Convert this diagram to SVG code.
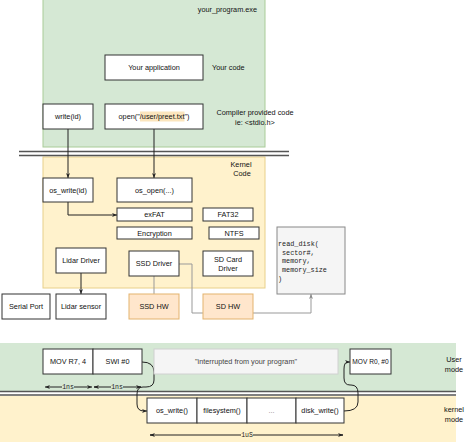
<svg xmlns="http://www.w3.org/2000/svg" width="474" height="442" viewBox="0 0 474 442">
<defs>
<style>
text{font-family:"Liberation Sans",Arial,sans-serif;font-size:7.3px;fill:#111;text-anchor:middle}
.box{fill:#fff;stroke:#333;stroke-width:1}
.hw{fill:#ffe6cc;stroke:#e3b36e;stroke-width:1}
.green{fill:#d5e8d4;stroke:#a9cc98;stroke-width:1}
.yellow{fill:#fff2cc;stroke:#e8d08a;stroke-width:1}
.code{font-family:"Liberation Mono","DejaVu Sans Mono",monospace;font-size:6.8px;text-anchor:start;fill:#222}
.dim{font-family:"Liberation Mono","DejaVu Sans Mono",monospace;font-size:6.5px;fill:#222}
.edge{fill:none;stroke:#222;stroke-width:1}
.gedge{fill:none;stroke:#999;stroke-width:1}
.sep{stroke:#555;stroke-width:1.6}
</style>
<marker id="arr" viewBox="0 0 10 10" refX="10" refY="5" markerWidth="5" markerHeight="5" orient="auto-start-reverse" markerUnits="userSpaceOnUse"><path d="M0,1 L10,5 L0,9 L3,5 z" fill="#222"/></marker>
<marker id="garr" viewBox="0 0 10 10" refX="10" refY="5" markerWidth="5" markerHeight="5" orient="auto" markerUnits="userSpaceOnUse"><path d="M0,1 L10,5 L0,9 L3,5 z" fill="#888"/></marker>
</defs>
<rect width="474" height="442" fill="#fff"/>

<g id="program-container">
<rect class="green" x="43" y="-2" width="222" height="149"/>
<text x="257" y="11.6" style="text-anchor:end">your_program.exe</text>
</g>
<g id="kernel-container">
<rect class="yellow" x="43" y="157" width="222" height="131"/>
<text x="241" y="166.6">Kernel</text>
<text x="242" y="175.6">Code</text>
</g>
<g id="user-band">
<rect class="green" x="-1" y="343" width="457" height="48" style="stroke:none"/>
<text x="454" y="361.6">User</text>
<text x="454" y="371.6">mode</text>
</g>
<g id="kernel-band">
<rect class="yellow" x="-1" y="396" width="457" height="47" style="stroke:none"/>
<text x="454" y="411.6">kernel</text>
<text x="454" y="421.6">mode</text>
</g>
<g id="separators">
<line class="sep" x1="19" y1="151.5" x2="289" y2="151.5"/>
<line class="sep" x1="19" y1="155.5" x2="289" y2="155.5"/>
<line class="sep" x1="0" y1="391.5" x2="456" y2="391.5"/>
<line class="sep" x1="0" y1="395" x2="456" y2="395"/>
</g>

<g id="connectors">
<path class="edge" d="M68,129 V178" marker-end="url(#arr)"/>
<path class="edge" d="M154,129 V178" marker-end="url(#arr)"/>
<path class="edge" d="M68,202 V215 H117" marker-end="url(#arr)"/>
<path class="edge" d="M81,273 V294" marker-end="url(#arr)"/>
<path class="gedge" d="M154,276 V294"/>
<path class="gedge" d="M179,264 H192 V313 H311 V294" marker-end="url(#garr)"/>
<path class="edge" d="M142,362 Q154,362 154,372 V380 Q154,387 146,387 H143 Q137,387 137,394 V404 Q137,411 144,411 H147" marker-end="url(#arr)"/>
<path class="edge" d="M344,411 Q358,411 358,402 V393 Q358,385 351,385 H350 Q344,385 344,378 V369 Q344,362 348,362 H350" marker-end="url(#arr)"/>
<g id="dim-1ns-a">
<path class="edge" d="M45,387 H62 M74,387 H92" marker-start="url(#arr)" marker-end="url(#arr)"/>
<text class="dim" x="68" y="389.3">1ns</text>
</g>
<g id="dim-1ns-b">
<path class="edge" d="M94,387 H111 M123,387 H141"/>
<path class="edge" d="M94,387 H96" marker-start="url(#arr)"/>
<path class="edge" d="M139,387 H141" marker-end="url(#arr)"/>
<text class="dim" x="117" y="389.3">1ns</text>
</g>
<g id="dim-1us">
<path class="edge" d="M150,435 H152" marker-start="url(#arr)"/>
<path class="edge" d="M150,435 H241 M253,435 H343" />
<path class="edge" d="M341,435 H343" marker-end="url(#arr)"/>
<text class="dim" x="247" y="437.3">1uS</text>
</g>
</g>

<g id="your-application"><rect class="box" x="105" y="55" width="98" height="25"/><text x="154" y="70.2">Your application</text></g>
<g id="your-code-label"><text x="212" y="70.2" style="text-anchor:start">Your code</text></g>
<g id="write"><rect class="box" x="43" y="104" width="50" height="25"/><text x="68" y="119.2">write(id)</text></g>
<g id="open"><rect class="box" x="105" y="104" width="98" height="25"/><rect x="140" y="111.5" width="44.5" height="10" fill="#fbe5bd"/><text x="154" y="119.2">open("/user/preet.txt")</text></g>
<g id="compiler-label"><text x="255" y="114.6">Compiler provided code</text><text x="255" y="124.6">ie: &lt;stdio.h&gt;</text></g>

<g id="os-write"><rect class="box" x="43" y="178" width="50" height="24"/><text x="68" y="192.6">os_write(id)</text></g>
<g id="os-open"><rect class="box" x="117" y="178" width="75" height="24"/><text x="154.5" y="192.6">os_open(...)</text></g>
<g id="exfat"><rect class="box" x="117" y="208" width="75" height="13"/><text x="154.5" y="217.1">exFAT</text></g>
<g id="fat32"><rect class="box" x="203" y="208" width="50" height="13"/><text x="228" y="217.1">FAT32</text></g>
<g id="encryption"><rect class="box" x="117" y="227" width="75" height="12"/><text x="154.5" y="235.6">Encryption</text></g>
<g id="ntfs"><rect class="box" x="209" y="227" width="50" height="12"/><text x="234" y="235.6">NTFS</text></g>
<g id="lidar-driver"><rect class="box" x="56" y="248" width="50" height="25"/><text x="81" y="263.2">Lidar Driver</text></g>
<g id="ssd-driver"><rect class="box" x="129" y="251" width="50" height="25"/><text x="154" y="266.2">SSD Driver</text></g>
<g id="sd-card-driver"><rect class="box" x="203" y="251" width="50" height="25"/><text x="228" y="261.6">SD Card</text><text x="228" y="270.6">Driver</text></g>
<g id="serial-port"><rect class="box" x="2" y="294" width="48" height="25"/><text x="26" y="309.2">Serial Port</text></g>
<g id="lidar-sensor"><rect class="box" x="56" y="294" width="50" height="25"/><text x="81" y="309.2">Lidar sensor</text></g>
<g id="ssd-hw"><rect class="hw" x="129" y="294" width="50" height="25"/><text x="154" y="309.2">SSD HW</text></g>
<g id="sd-hw"><rect class="hw" x="203" y="294" width="50" height="25"/><text x="228" y="309.2">SD HW</text></g>
<g id="read-disk"><rect x="277" y="227" width="68" height="67" fill="#f5f5f5" stroke="#888" stroke-width="1"/>
<text class="code" x="278" y="246">read_disk(</text>
<text class="code" x="282" y="254.7">sector#,</text>
<text class="code" x="282" y="263.4">memory,</text>
<text class="code" x="282" y="272.1">memory_size</text>
<text class="code" x="278" y="280.8">)</text>
</g>

<g id="mov-r7"><rect class="box" x="43" y="349" width="50" height="25"/><text x="68" y="364.2">MOV R7, 4</text></g>
<g id="swi"><rect class="box" x="93" y="349" width="49" height="25"/><text x="117.5" y="364.2">SWI #0</text></g>
<g id="interrupted"><rect x="154" y="349" width="184" height="25" fill="#f5f5f5" stroke="#d0d0d0" stroke-width="1"/><text x="246" y="364.2" style="fill:#444">"interrupted from your program"</text></g>
<g id="mov-r0"><rect class="box" x="350" y="349" width="41" height="25"/><text x="370.5" y="364" style="font-size:6.6px">MOV R0, #0</text></g>
<g id="os-write-call"><rect class="box" x="147" y="398" width="50" height="25"/><text x="172" y="413.2">os_write()</text></g>
<g id="filesystem"><rect class="box" x="197" y="398" width="50" height="25"/><text x="222" y="413.2">filesystem()</text></g>
<g id="ellipsis"><rect class="box" x="247" y="398" width="49" height="25"/><text x="271.5" y="413.2" style="fill:#888">...</text></g>
<g id="disk-write"><rect class="box" x="296" y="398" width="48" height="25"/><text x="320" y="413.2">disk_write()</text></g>
</svg>
